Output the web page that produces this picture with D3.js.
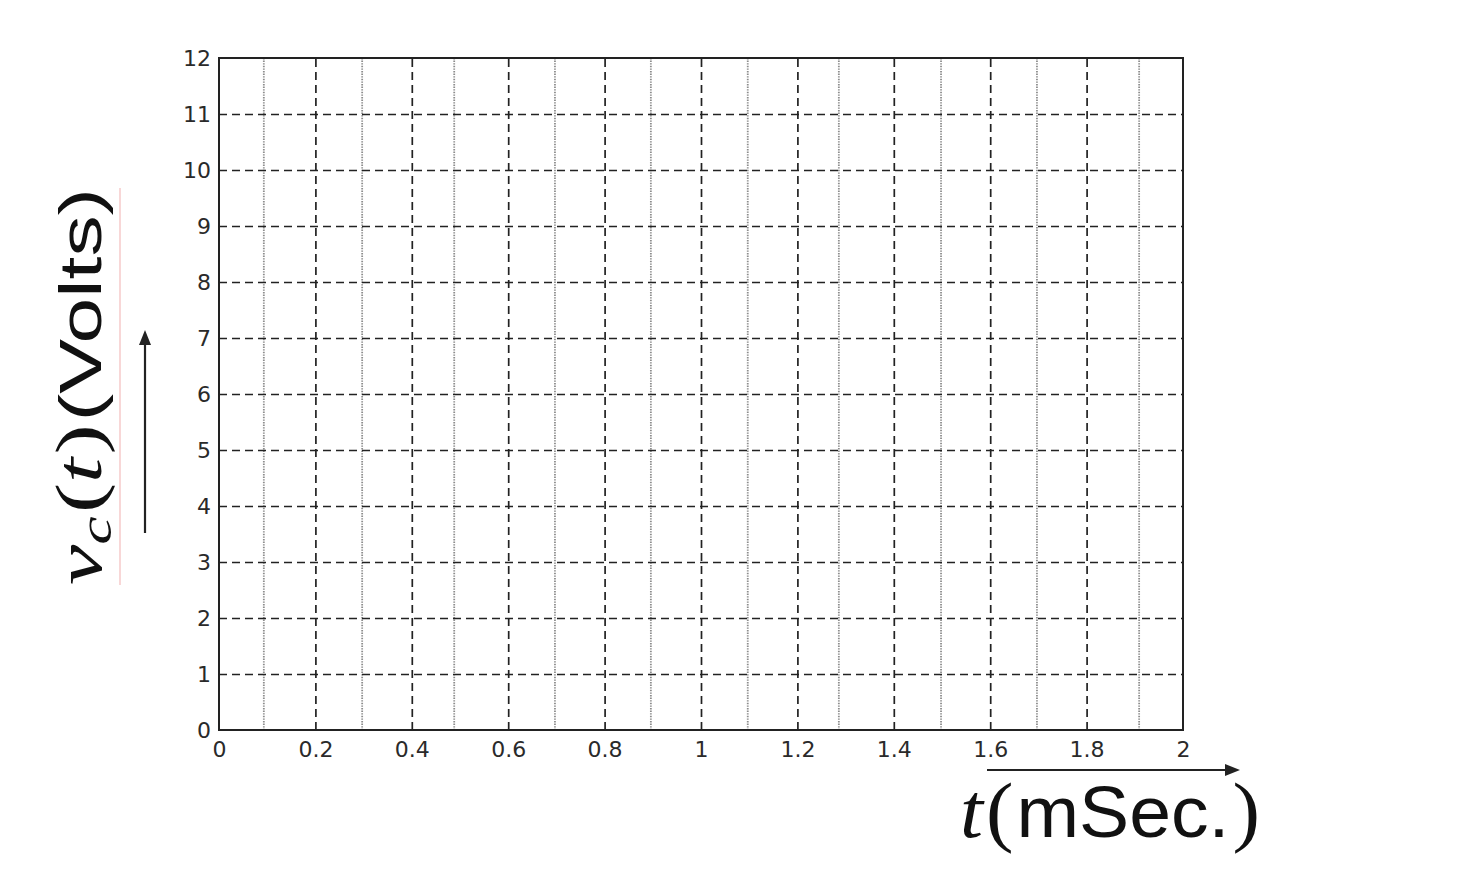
<!DOCTYPE html>
<html>
<head>
<meta charset="utf-8">
<script src="https://cdn.jsdelivr.net/npm/d3@7"></script>
<style>
  body { margin: 0; background: #fff; }
  svg { display: block; }
</style>
</head>
<body>
<div id="chart"></div>
<script>
// axis ranges and ticks
const xDomain = [0, 2];
const yDomain = [0, 12];
const xTicks = [0, 0.2, 0.4, 0.6, 0.8, 1, 1.2, 1.4, 1.6, 1.8, 2];
const yTicks = [0, 1, 2, 3, 4, 5, 6, 7, 8, 9, 10, 11, 12];
// the faint dotted verticals between the dashed ones
const xDotted = [0.093, 0.297, 0.488, 0.697, 0.896, 1.097, 1.286, 1.498, 1.697, 1.909];

// axis titles, split in math / text pieces
const yTitleParts = [
  { text: "v", kind: "math" },
  { text: "c", kind: "sub" },
  { text: "(", kind: "paren" },
  { text: "t", kind: "math" },
  { text: ")", kind: "paren" },
  { text: "(Volts)", kind: "word" }
];
const xTitleParts = [
  { text: "t", kind: "math" },
  { text: "(", kind: "paren" },
  { text: "mSec.", kind: "word" },
  { text: ")", kind: "paren" }
];

const W = 1476, H = 875;
const ink = "#222";

const svg = d3.select("#chart").append("svg")
  .attr("width", W)
  .attr("height", H);

svg.append("rect").attr("width", W).attr("height", H).attr("fill", "#fff");

const x = d3.scaleLinear().domain(xDomain).range([219, 1183]);
const y = d3.scaleLinear().domain(yDomain).range([730, 58]);
const plotH = y(yDomain[0]) - y(yDomain[1]);
const plotW = x(xDomain[1]) - x(xDomain[0]);

// dotted grey verticals
svg.append("g")
  .selectAll("line")
  .data(xDotted)
  .join("line")
  .attr("x1", d => x(d)).attr("x2", d => x(d))
  .attr("y1", y(yDomain[1])).attr("y2", y(yDomain[0]))
  .attr("stroke", "#8c8c8c")
  .attr("stroke-width", 1.8)
  .attr("stroke-dasharray", "1.4,1.2");

// dashed grid (vertical)
const gx = svg.append("g")
  .attr("transform", `translate(0,${y(0)})`)
  .call(d3.axisBottom(x).tickValues(xTicks.slice(1, -1)).tickSize(-plotH).tickFormat(""));
gx.select(".domain").remove();
gx.selectAll(".tick line")
  .attr("stroke", ink).attr("stroke-width", 1.7).attr("stroke-dasharray", "8,5");

// dashed grid (horizontal)
const gy = svg.append("g")
  .attr("transform", `translate(${x(0)},0)`)
  .call(d3.axisLeft(y).tickValues(yTicks.slice(1, -1)).tickSize(-plotW).tickFormat(""));
gy.select(".domain").remove();
gy.selectAll(".tick line")
  .attr("stroke", ink).attr("stroke-width", 1.7).attr("stroke-dasharray", "8,5");

// frame
svg.append("rect")
  .attr("x", x(xDomain[0])).attr("y", y(yDomain[1]))
  .attr("width", plotW).attr("height", plotH)
  .attr("fill", "none").attr("stroke", ink).attr("stroke-width", 2);

// tick labels
const tickFont = "DejaVu Sans, Liberation Sans, sans-serif";
const ax = svg.append("g")
  .attr("transform", `translate(0,${y(0)})`)
  .call(d3.axisBottom(x).tickValues(xTicks).tickSize(0).tickPadding(11).tickFormat(d3.format("")));
ax.select(".domain").remove();
ax.attr("font-family", tickFont).attr("font-size", 22);
ax.selectAll("text").attr("fill", "#2a2a2a");

const ay = svg.append("g")
  .attr("transform", `translate(${x(0)},0)`)
  .call(d3.axisLeft(y).tickValues(yTicks).tickSize(0).tickPadding(8).tickFormat(d3.format("")));
ay.select(".domain").remove();
ay.attr("font-family", tickFont).attr("font-size", 22);
ay.selectAll("text").attr("fill", "#2a2a2a");

// title builder: math italic serif + upright sans words
function addTitle(g, parts, base) {
  const t = g.append("text").attr("fill", "#111");
  parts.forEach((p, i) => {
    const s = t.append("tspan").text(p.text);
    const afterSub = i > 0 && parts[i - 1].kind === "sub";
    if (p.kind === "math") {
      s.attr("font-family", "Liberation Serif, serif").attr("font-style", "italic")
        .attr("font-size", base * 1.1);
    } else if (p.kind === "sub") {
      s.attr("font-family", "Liberation Serif, serif").attr("font-style", "italic")
        .attr("font-size", base * 0.78).attr("dy", base * 0.17);
    } else if (p.kind === "paren") {
      s.attr("font-family", "Liberation Serif, serif")
        .attr("font-size", base * 1.1).attr("dx", base * 0.04);
    } else {
      s.attr("font-family", "Liberation Sans, Arial, sans-serif")
        .attr("font-size", base).attr("dx", base * 0.04);
    }
    if (afterSub) s.attr("dy", -base * 0.17);
  });
  return t;
}

// y title: rotated, stretched to its span in the picture
const yg = svg.append("g");
const yText = addTitle(yg, yTitleParts, 60);
const ybb = yText.node().getBBox();
const yLen = 585 - 188;
yg.attr("transform", `translate(101,585) rotate(-90) scale(${yLen / ybb.width},1) translate(${-ybb.x},0)`);

// thin pink rule beside it
svg.append("line")
  .attr("x1", 120).attr("x2", 120).attr("y1", 188).attr("y2", 585)
  .attr("stroke", "#f6caca").attr("stroke-width", 1.5);

// x title
const xg = svg.append("g");
const xText = addTitle(xg, xTitleParts, 72);
const xbb = xText.node().getBBox();
const xLen = 1260 - 960;
xg.attr("transform", `translate(960,837) scale(${xLen / xbb.width},1) translate(${-xbb.x},0)`);

// arrows
function arrow(x1, y1, x2, y2) {
  const a = Math.atan2(y2 - y1, x2 - x1);
  const L = 15, hw = 6;
  const bx = x2 - L * Math.cos(a), by = y2 - L * Math.sin(a);
  svg.append("line")
    .attr("x1", x1).attr("y1", y1).attr("x2", bx).attr("y2", by)
    .attr("stroke", ink).attr("stroke-width", 2.2);
  svg.append("path")
    .attr("d", `M${x2},${y2}L${bx + hw * Math.sin(a)},${by - hw * Math.cos(a)}L${bx - hw * Math.sin(a)},${by + hw * Math.cos(a)}Z`)
    .attr("fill", ink);
}
arrow(145, 533, 145, 330);
arrow(987, 770, 1240, 770);
</script>
</body>
</html>
